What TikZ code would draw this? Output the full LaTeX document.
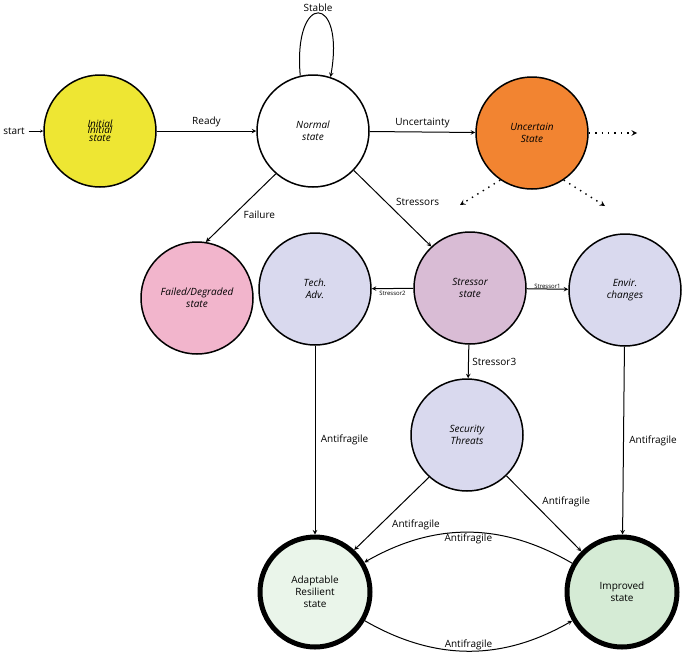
\documentclass[tikz,border=0pt]{standalone}
\usepackage{fontspec}
\setmainfont{Open Sans}
\definecolor{inityellow}{HTML}{EEE633}
\definecolor{uncorange}{HTML}{F28431}
\definecolor{failpink}{HTML}{F2B5CC}
\definecolor{stressmauve}{HTML}{D9BCD5}
\definecolor{lavender}{HTML}{D9D9EE}
\definecolor{adaptgreen}{HTML}{EAF5EA}
\definecolor{improvgreen}{HTML}{D5EBD5}
\begin{document}
\begin{tikzpicture}[x=1pt,y=-1pt,line width=1pt,
  state/.style={circle,draw,line width=1.5pt,minimum size=112pt,inner sep=0pt,align=center,font=\itshape},
  goal/.style={circle,draw,line width=5pt,minimum size=110pt,inner sep=0pt,align=center},
  dots/.style={line width=1.4pt,dash pattern=on 1.4pt off 5pt,-stealth},
  small/.style={font=\fontsize{6}{7}\selectfont}]
\useasboundingbox (0,0) rectangle (685,651);
% states
\node [state,fill=inityellow] (init) at (100,131) {Initial\\[-6pt]Initial\\[-4pt]state};
\node [state] (normal) at (313,131) {Normal\\state};
\node [state,fill=uncorange] (unc) at (532,133) {Uncertain\\State};
\node [state,fill=failpink] (failed) at (197,298) {Failed/Degraded\\state};
\node [state,fill=lavender] (tech) at (315,289) {Tech.\\Adv.};
\node [state,fill=stressmauve] (stress) at (470,288) {Stressor\\state};
\node [state,fill=lavender] (envir) at (625,290) {Envir.\\changes};
\node [state,fill=lavender] (secur) at (467,435) {Security\\Threats};
\node [goal,fill=adaptgreen] (adapt) at (315,592) {Adaptable\\Resilient\\state};
\node [goal,fill=improvgreen] (improv) at (622,592) {Improved\\state};
\node (start) at (14,131) {start};
\coordinate (uright) at (637,133);
\coordinate (uleft) at (460,205);
\coordinate (udown) at (605,206);
% transitions
\draw [-stealth,thin] (start) -- (init);
\draw [-stealth] (init) -- node[above] {Ready} (normal);
\draw [-stealth] (normal.103) .. controls +(-95:85) and +(-80:85) .. node[above,inner sep=1pt] {Stable} (normal.72);
\draw [-stealth] (normal) -- node[above] {Uncertainty} (unc);
\draw [dots] (unc) -- (uright);
\draw [dots] (unc.236) -- (uleft);
\draw [dots] (unc.304) -- (udown);
\draw [-stealth] (normal.229) -- node[right,pos=0.6,xshift=6pt] {Failure} (failed.81);
\draw [-stealth] (normal.316) -- node[right,pos=0.42,xshift=6pt] {Stressors} (stress.133);
\draw [-stealth] (stress) -- node[below,small,inner sep=2pt] {Stressor2} (tech);
\draw [-stealth] (stress) -- node[above,small,inner sep=0pt] {Stressor1} (envir);
\draw [-stealth] (stress) -- node[right,pos=0.5] {Stressor3} (secur);
\draw [-stealth] (tech) -- node[right,xshift=2pt] {Antifragile} (adapt);
\draw [-stealth] (envir) -- node[right,xshift=2pt] {Antifragile} (improv);
\draw [-stealth] (secur.228) -- node[right,pos=0.65,xshift=8pt] {Antifragile} (adapt.47);
\draw [-stealth] (secur.314) -- node[right,pos=0.35,xshift=6pt] {Antifragile} (improv.135);
\draw [-stealth] (improv.150) to[bend right=30] node[below,inner sep=1pt] {Antifragile} (adapt.31);
\draw [-stealth] (adapt.330) to[bend right=30] node[above,inner sep=1pt] {Antifragile} (improv.210);
\end{tikzpicture}
\end{document}
